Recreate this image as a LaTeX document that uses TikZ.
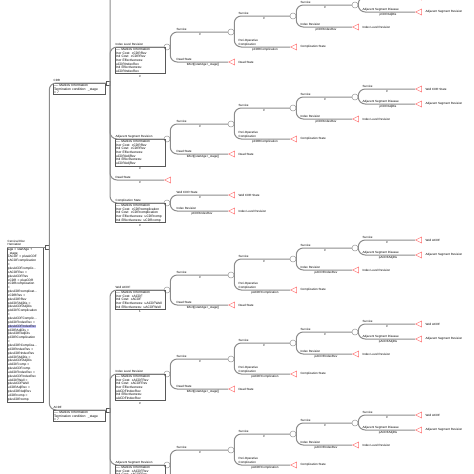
\documentclass[tikz,border=0pt]{standalone}
\usepackage{fontspec}
\setmainfont{Liberation Sans}
\usetikzlibrary{shapes.geometric,positioning}

\begin{document}
\begin{tikzpicture}
     [
     x=1pt, y=-1pt,
     every node/.style={font=\fontsize{3}{3.5}\selectfont},
     branch/.style={draw=gray!90, line width=1pt, rounded corners=7pt},
     chance/.style={circle, draw=gray!80, fill=white, line width=0.5pt, minimum size=6pt, inner sep=0pt},
     markov/.style={rectangle, draw=gray!70!black, fill=white, line width=0.5pt, minimum size=3.5pt, inner sep=0pt},
     decision/.style={rectangle, draw=gray!70!black, fill=white, line width=0.5pt, minimum size=4pt, inner sep=0pt},
     terminal/.style={isosceles triangle, isosceles triangle stretches, shape border rotate=180, draw=red!55, fill=white, line width=0.5pt, minimum height=6pt, minimum width=6pt, inner sep=0pt, anchor=apex},
     lbl/.style={anchor=south west, inner sep=0.4pt},
     prob/.style={anchor=north, inner sep=0.4pt},
     endlbl/.style={anchor=west, inner sep=0.4pt, xshift=3pt},
     infobox/.style={draw=gray!70!black, anchor=north west, align=left, inner sep=0.8pt, text width=48pt, line width=0.4pt, font=\fontsize{3.3}{3.7}\selectfont},
     ]
 \useasboundingbox (0,0) rectangle (474,474);
 \clip (0,0) rectangle (474,474);

 % root
 \node[decision] (root) at (47,247) {};
 \coordinate (rootstart) at (7,247);
 \node[lbl, align=left] at (7,246.5) {Cervical Disc\\Herniation};
 \node[infobox, text width=34.4pt, font=\fontsize{3.2}{3.85}\selectfont] (rootdefs) at (7,247)
   {age = startAge +\\\_stage\\cACDF = plusACDF\\cACDFcomplication\\=\\plusACDFcomplic...\\cACDFRev =\\plusACDFRev\\cCDR = plusCDR\\cCDRcomplication\\=\\plusCDRcomplicat...\\cCDRRev =\\plusCDRRev\\pACDFAdjDis =\\plusACDFAdjDis\\pACDFComplication\\=\\plusACDFComplic...\\pACDFIndexRev =\\{\fboxsep0pt\colorbox{blue!22}{plusACDFIndexRev}}\\pCDRAdjDis =\\plusCDRAdjDis\\pCDRComplication\\=\\plusCDRComplica...\\pCDRIndexRev =\\plusCDRIndexRev\\uACDFAdjDis =\\plusACDFAdjDis\\uACDFcomp =\\plusACDFcomp\\uACDFIndexRev =\\plusACDFIndexRev\\uACDFWell =\\plusACDFWell\\uCDRAdjRev =\\plusCDRAdjRev\\uCDRcomp =\\plusCDRcomp};
 \draw[branch] (rootstart) -- (root.west);

 % CDR and ACDF markov nodes
 \node[markov] (cdr) at (108,83) {};
 \node[lbl] at (53,82.5) {CDR};
 \node[infobox, text width=50.4pt] (cdrinfo) at (53,83) {---- Markov Information\\Termination condition: \_stage\\= 7};
 \node[markov] (acdf) at (108,410) {};
 \node[lbl] at (53,409.5) {ACDF};
 \node[infobox, text width=50.4pt] (acdfinfo) at (53,410) {---- Markov Information\\Termination condition: \_stage\\= 7};
 \draw[branch] (root.east) |- (cdr.west);
 \draw[branch] (root.east) |- (acdf.west);

 % repeated state subtrees
 \foreach \tn/\ty/\tdrug/\twell in {a/47/CDR/Well CDR State, b/139/CDR/Well CDR State, c/290/ACDF/Well ACDF, d/374/ACDF/Well ACDF, e/465/ACDF/Well ACDF}
 {
 \node[chance] (\tn0) at (167,\ty) {};
 \node[chance] (\tn1) at (231,{\ty-15}) {};
 \node[terminal] (\tn1d) at (228,{\ty+15}) {};
 \node[chance] (\tn2) at (293,{\ty-31}) {};
 \node[terminal] (\tn2c) at (290,\ty) {};
 \node[chance] (\tn3) at (355,{\ty-42}) {};
 \node[terminal] (\tn3i) at (352,{\ty-20}) {};
 \node[terminal] (\tn4w) at (415,{\ty-50}) {};
 \node[terminal] (\tn4a) at (415,{\ty-35}) {};
 \draw[branch] (\tn0.east) |- (\tn1.west);
 \draw[branch] (\tn0.east) |- (\tn1d.apex);
 \draw[branch] (\tn1.east) |- (\tn2.west);
 \draw[branch] (\tn1.east) |- (\tn2c.apex);
 \draw[branch] (\tn2.east) |- (\tn3.west);
 \draw[branch] (\tn2.east) |- (\tn3i.apex);
 \draw[branch] (\tn3.east) |- (\tn4w.apex);
 \draw[branch] (\tn3.east) |- (\tn4a.apex);
 \node[lbl] at (176,{\ty-15.5}) {Survive};
 \node[prob] at (200,{\ty-14.5}) {\#};
 \node[lbl] at (176,{\ty+14.5}) {Dead State};
 \node[prob] at (203,{\ty+15.5}) {tMort[(startAge+\_stage)]};
 \node[endlbl] at (\tn1d.east) {Dead State};
 \node[lbl] at (238,{\ty-31.5}) {Survive};
 \node[prob] at (264,{\ty-30.5}) {\#};
 \node[lbl, align=left] at (238,{\ty-0.5}) {Peri-Operative\\Complication};
 \node[prob] at (265,{\ty+0.5}) {p\tdrug Complication};
 \node[endlbl] at (\tn2c.east) {Complication State};
 \node[lbl] at (300,{\ty-42.5}) {Survive};
 \node[prob] at (325,{\ty-41.5}) {\#};
 \node[lbl] at (300,{\ty-20.5}) {Index Revision};
 \node[prob] at (326,{\ty-19.5}) {p\tdrug IndexRev};
 \node[endlbl] at (\tn3i.east) {Index Level Revision};
 \node[lbl] at (362,{\ty-50.5}) {Survive};
 \node[prob] at (387,{\ty-49.5}) {\#};
 \node[lbl] at (362,{\ty-35.5}) {Adjacent Segment Disease};
 \node[prob] at (388,{\ty-34.5}) {p\tdrug AdjDis};
 \node[endlbl] at (\tn4w.east) {\twell};
 \node[endlbl] at (\tn4a.east) {Adjacent Segment Revision};
 }

 % CDR states
 \coordinate (cdrwell) at (167,-40);
 \node[lbl] at (115,46.5) {Index Level Revision};
 \node[infobox] (ainfo) at (115,47) {---- Markov Information\\Incr Cost: cCDRRev\\Init Cost: cCDRRev\\Incr Effectiveness:\\uCDRIndexRev\\Init Effectiveness:\\uCDRIndexRev};
 \node[prob, below=1pt of ainfo] {\#};
 \node[lbl] at (115,138.5) {Adjacent Segment Revision};
 \node[infobox] (binfo) at (115,139) {---- Markov Information\\Incr Cost: cCDRRev\\Init Cost: cCDRRev\\Incr Effectiveness:\\uCDRAdjRev\\Init Effectiveness:\\uCDRAdjRev};
 \node[prob, below=1pt of binfo] {\#};
 \node[terminal] (cdrdead) at (164,180) {};
 \node[lbl] at (115,179.5) {Dead State};
 \node[prob] at (140,180.5) {\#};
 \node[chance] (f0) at (167,203) {};
 \node[lbl] at (115,202.5) {Complication State};
 \node[infobox] (finfo) at (115,203) {---- Markov Information\\Incr Cost: cCDRcomplication\\Init Cost: cCDRcomplication\\Incr Effectiveness: uCDRcomp\\Init Effectiveness: uCDRcomp};
 \node[prob, below=1pt of finfo] {\#};
 \node[terminal] (f1w) at (228,195) {};
 \node[terminal] (f1i) at (228,211) {};
 \draw[branch] (f0.east) |- (f1w.apex);
 \draw[branch] (f0.east) |- (f1i.apex);
 \node[lbl] at (176,194.5) {Well CDR State};
 \node[prob] at (200,195.5) {\#};
 \node[lbl] at (176,210.5) {Index Revision};
 \node[prob] at (202,211.5) {pCDRIndexRev};
 \node[endlbl] at (f1w.east) {Well CDR State};
 \node[endlbl] at (f1i.east) {Index Level Revision};
 \draw[branch] (cdr.east) |- (cdrwell);
 \draw[branch] (cdr.east) |- (a0.west);
 \draw[branch] (cdr.east) |- (b0.west);
 \draw[branch] (cdr.east) |- (cdrdead.apex);
 \draw[branch] (cdr.east) |- (f0.west);

 % ACDF states
 \coordinate (acdfrest) at (167,520);
 \node[lbl] at (115,289.5) {Well ACDF};
 \node[infobox] (cinfo) at (115,290) {---- Markov Information\\Incr Cost: cACDF\\Init Cost: cACDF\\Incr Effectiveness: uACDFWell\\Init Effectiveness: uACDFWell};
 \node[prob, below=1pt of cinfo] {1};
 \node[lbl] at (115,373.5) {Index Level Revision};
 \node[infobox] (dinfo) at (115,374) {---- Markov Information\\Incr Cost: cACDFRev\\Init Cost: cACDFRev\\Incr Effectiveness:\\uACDFIndexRev\\Init Effectiveness:\\uACDFIndexRev};
 \node[prob, below=1pt of dinfo] {\#};
 \node[lbl] at (115,464.5) {Adjacent Segment Revision};
 \node[infobox] (einfo) at (115,465) {---- Markov Information\\Incr Cost: cACDFRev\\Init Cost: cACDFRev\\Incr Effectiveness:\\uACDFAdjRev\\Init Effectiveness:\\uACDFAdjRev};
 \draw[branch] (acdf.east) |- (c0.west);
 \draw[branch] (acdf.east) |- (d0.west);
 \draw[branch] (acdf.east) |- (e0.west);
 \draw[branch] (acdf.east) |- (acdfrest);
 \end{tikzpicture}
\end{document}
